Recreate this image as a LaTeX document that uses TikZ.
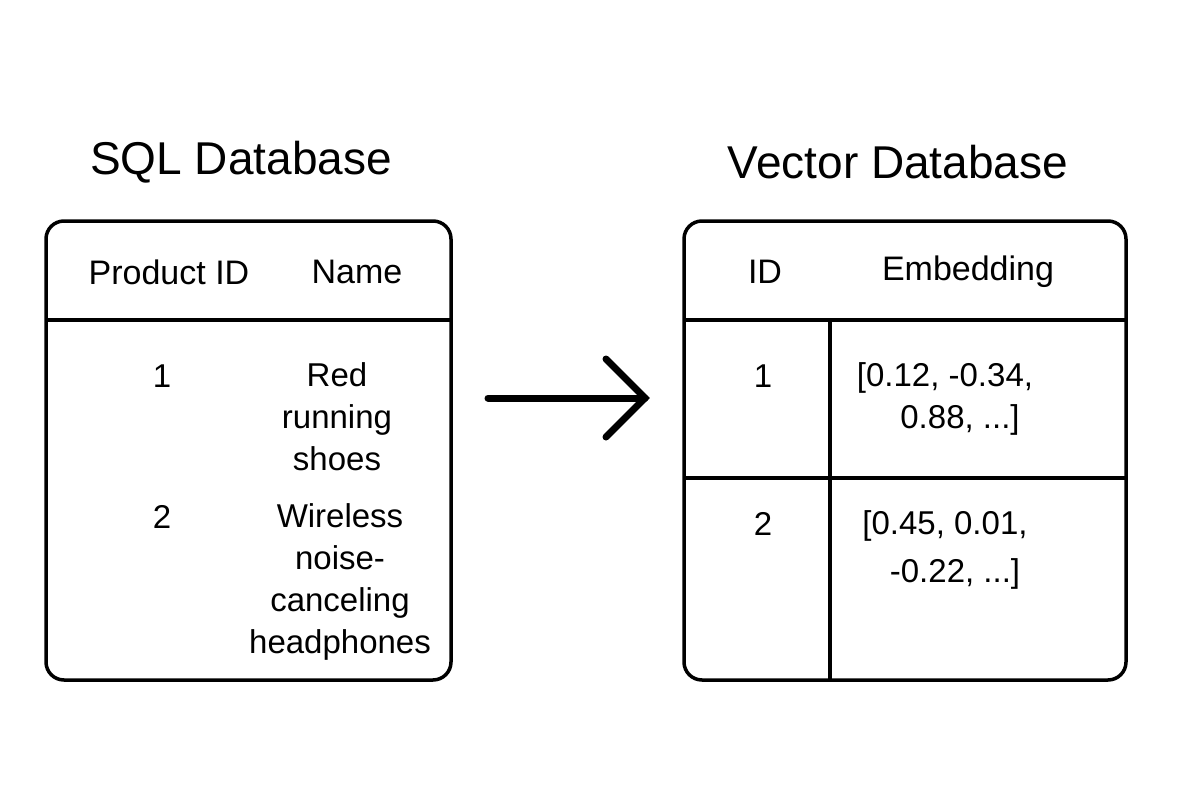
\documentclass[tikz,border=0pt]{standalone}
\usepackage{fontspec}
\setmainfont{Liberation Sans}
\begin{document}
\begin{tikzpicture}[x=1pt,y=-1pt,
  box/.style={line width=3.5pt,rounded corners=18pt},
  rule/.style={line width=3.5pt},
  title/.style={font=\fontsize{46}{50}\selectfont},
  head/.style={font=\fontsize{34}{38}\selectfont},
  cell/.style={font=\fontsize{33}{42}\selectfont,align=center,inner sep=0pt}]
\useasboundingbox (0,0) rectangle (1200,800);
% left
\node[title] (t1) at (241,162) {SQL Database};
\draw[box] (46,221) rectangle (451,680);
\coordinate (l1) at (46,320); \coordinate (l2) at (451,320);
\draw[rule] (l1) -- (l2);
\node[head] (h1) at (169,272) {Product ID};
\node[head] (h2) at (357,272) {Name};
\node[cell] (a1) at (162,376) {1};
\node[cell,anchor=north] (b1) at (337,362) {Red\\running\\shoes};
\node[cell] (a2) at (162,517) {2};
\node[cell,anchor=north] (b2) at (340,503) {Wireless\\noise-\\canceling\\headphones};
% arrow
\coordinate (s) at (488,398); \coordinate (e) at (645,398);
\coordinate (u) at (606,359); \coordinate (d) at (606,437);
\draw[line width=7pt,line cap=round] (s) -- (e);
\draw[line width=7pt,line cap=round,line join=miter] (u) -- (e) -- (d);
% right
\node[title] (t2) at (898,162) {Vector Database};
\draw[box] (684,221) rectangle (1126,680);
\coordinate (r1) at (684,320); \coordinate (r2) at (1126,320);
\coordinate (v1) at (830,320); \coordinate (v2) at (830,680);
\coordinate (m1) at (684,478); \coordinate (m2) at (1126,478);
\draw[rule] (r1) -- (r2);
\draw[rule] (v1) -- (v2);
\draw[rule] (m1) -- (m2);
\node[head] (h3) at (765,272) {ID};
\node[head] (h4) at (968,272) {Embedding};
\node[cell] (c1) at (763,376) {1};
\node[cell] (e1) at (945,378) {[0.12, -0.34,};
\node[cell] (e1b) at (960,420) {0.88, ...]};
\node[cell] (c2) at (763,524) {2};
\node[cell] (e2) at (945,526) {[0.45, 0.01,};
\node[cell] (e2b) at (955,574) {-0.22, ...]};
\end{tikzpicture}
\end{document}
